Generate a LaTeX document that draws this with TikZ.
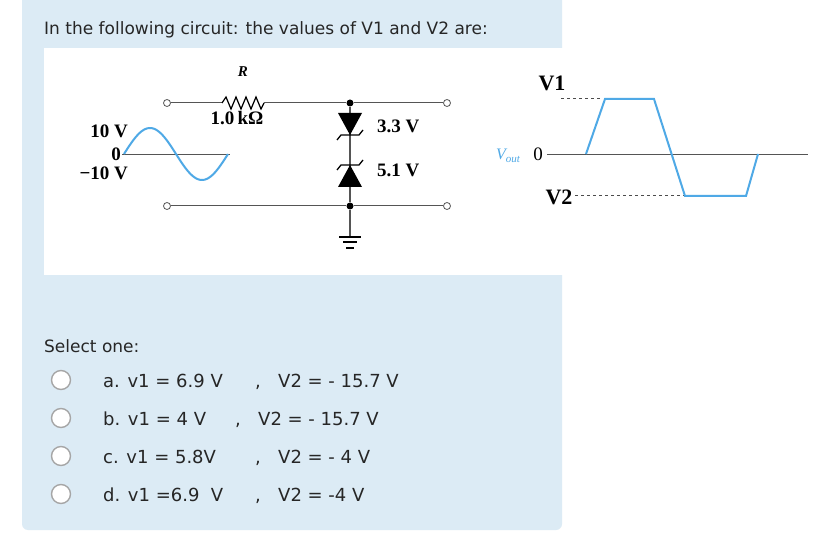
\documentclass[tikz,border=0pt]{standalone}
\usepackage{fontspec}
\setmainfont{DejaVu Sans}
\newfontfamily\serif{Liberation Serif}
\definecolor{panel}{HTML}{DCEBF5}
\definecolor{wave}{HTML}{4FA9E6}
\definecolor{wire}{HTML}{555555}
\begin{document}
\begin{tikzpicture}[x=1pt,y=-1pt,
  term/.style={circle,draw=wire,fill=white,inner sep=0pt,minimum size=7pt,line width=0.8pt},
  dot/.style={circle,fill=black,inner sep=0pt,minimum size=7pt},
  lab/.style={font=\serif\bfseries\fontsize{19}{19}\selectfont,inner sep=0pt},
  q/.style={font=\fontsize{17}{18}\selectfont,anchor=west,inner sep=0pt,text=black!85},
  opt/.style={font=\fontsize{18}{18}\selectfont,anchor=base west,inner sep=0pt,text=black!85},
  radio/.style={circle,draw=gray!70,fill=white,line width=1.4pt,minimum size=19pt,inner sep=0pt}]
\useasboundingbox (0,0) rectangle (828,540);
\fill[white] (0,0) rectangle (828,540);
\fill[panel,rounded corners=6pt] (22,-10) rectangle (562,530);
\fill[white] (44,48) rectangle (828,275);
\node[q] (qt) at (44,30) {In the following circuit: the values of V1 and V2 are:};
% circuit
\node[term] (t1) at (167,103) {};
\node[term] (t2) at (447,103) {};
\node[term] (t3) at (167,206) {};
\node[term] (t4) at (447,206) {};
\node[dot] (j1) at (350,103) {};
\node[dot] (j2) at (350,206) {};
\coordinate (r1) at (222,103);
\draw[wire,line width=1pt] (t1) -- (r1);
\draw[black,line width=1.2pt] (r1) -- ++(4,-6) -- ++(5,12) -- ++(5,-12) -- ++(5,12) -- ++(5,-12) -- ++(5,12) -- ++(5,-12) -- ++(5,12) -- ++(3,-6) coordinate(r3);
\draw[wire,line width=1pt] (r3) -- (j1) -- (t2);
\draw[wire,line width=1pt] (t3) -- (j2) -- (t4);
\draw[wire,line width=1.2pt] (j1) -- (j2) -- (350,237) coordinate (g);
\draw[black,line width=2pt] (339,237) -- (361,237) (343,242) -- (357,242) (346,248) -- (354,248);
\fill[black] (338,113) -- (362,113) -- (350,135) -- cycle;
\draw[black,line width=1.3pt] (337,140) -- (341,135) -- (359,135) -- (363,130);
\fill[black] (338,187) -- (362,187) -- (350,165) -- cycle;
\draw[black,line width=1.3pt] (337,170) -- (341,165) -- (359,165) -- (363,160);
\node[font=\serif\itshape\bfseries\fontsize{15}{15}\selectfont] (R) at (243,72) {R};
\node[lab] (rv) at (237,118) {1.0\,kΩ};
\node[lab,anchor=west] (d1) at (377,126) {3.3 V};
\node[lab,anchor=west] (d2) at (377,170) {5.1 V};
\node[lab,anchor=east] (a1) at (128,131) {10 V};
\node[lab,anchor=east] (a2) at (121,154) {0};
\node[lab,anchor=east] (a3) at (128,173) {−10 V};
\draw[wire,line width=0.9pt] (122,154) -- (230,154);
\draw[wave,line width=2pt,domain=0:1,samples=60,smooth] plot ({124+104*\x},{154-26*sin(360*\x)});
% output graph
\draw[wire,line width=0.9pt] (547,154) -- (808,154);
\draw[black!70,dashed,line width=1pt] (561,99) -- (602,99);
\draw[black!70,dashed,line width=1pt] (575,196) -- (684,196);
\draw[wave,line width=2pt] (586,154) -- (605,99) -- (654,99) -- (685,196) -- (746,196) -- (758,154);
\node[font=\serif\bfseries\fontsize{22}{22}\selectfont] (v1) at (552,83) {V1};
\node[font=\serif\bfseries\fontsize{22}{22}\selectfont] (v2) at (559,197) {V2};
\node[font=\serif\itshape\fontsize{16}{16}\selectfont,text=wave] (vo) at (508,156) {V\raisebox{-3pt}{\fontsize{11}{11}\selectfont out}};
\node[font=\serif\fontsize{19}{19}\selectfont] (z) at (538,154) {0};
% options
\node[q] (sel) at (44,346) {Select one:};
\node[radio] (o1) at (61,380) {};
\node[radio] (o2) at (61,418) {};
\node[radio] (o3) at (61,456) {};
\node[radio] (o4) at (61,494) {};
\node[opt] (a) at (103,387) {a. v1 = 6.9 V};
\node[opt] (ac) at (255,387) {,};
\node[opt] (a2) at (278,387) {V2 = - 15.7 V};
\node[opt] (b) at (103,425) {b. v1 = 4 V};
\node[opt] (bc) at (235,425) {,};
\node[opt] (b2) at (258,425) {V2 = - 15.7 V};
\node[opt] (c) at (103,463) {c. v1 = 5.8V};
\node[opt] (cc) at (255,463) {,};
\node[opt] (c2) at (278,463) {V2 = - 4 V};
\node[opt] (d) at (103,501) {d. v1 =6.9 \ V};
\node[opt] (dc) at (255,501) {,};
\node[opt] (d2) at (278,501) {V2 = -4 V};
\end{tikzpicture}
\end{document}
